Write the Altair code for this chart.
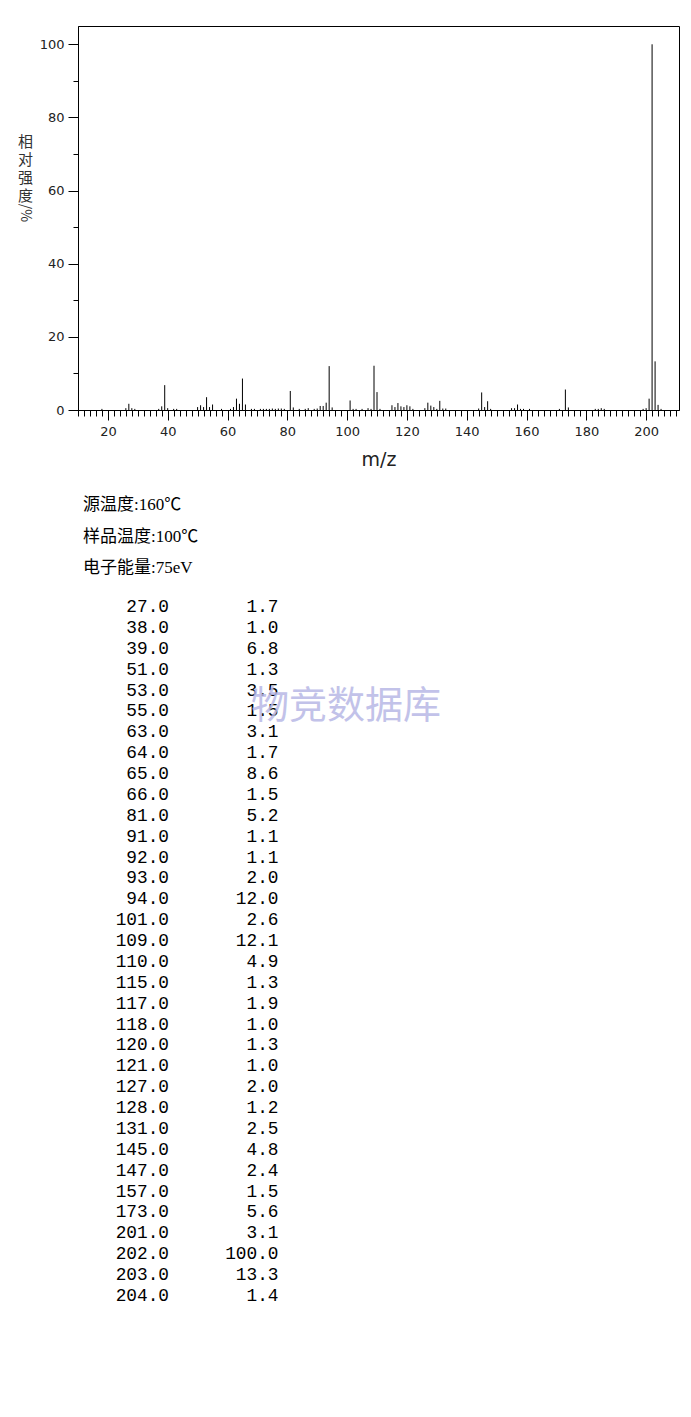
import altair as alt
import pandas as pd

# Listed peaks (m/z, relative intensity %)
table_mz = [27.0, 38.0, 39.0, 51.0, 53.0, 55.0, 63.0, 64.0, 65.0, 66.0,
            81.0, 91.0, 92.0, 93.0, 94.0, 101.0, 109.0, 110.0, 115.0, 117.0,
            118.0, 120.0, 121.0, 127.0, 128.0, 131.0, 145.0, 147.0, 157.0, 173.0,
            201.0, 202.0, 203.0, 204.0]
table_int = [1.7, 1.0, 6.8, 1.3, 3.5, 1.5, 3.1, 1.7, 8.6, 1.5,
             5.2, 1.1, 1.1, 2.0, 12.0, 2.6, 12.1, 4.9, 1.3, 1.9,
             1.0, 1.3, 1.0, 2.0, 1.2, 2.5, 4.8, 2.4, 1.5, 5.6,
             3.1, 100.0, 13.3, 1.4]

# Small peaks (below 1 %)
minor_mz = [18, 26, 28, 29, 37, 40, 42, 43, 50, 52,
            54, 58, 61, 62, 68, 69, 71, 72, 73, 74,
            75, 76, 77, 78, 79, 82, 84, 86, 87, 89,
            90, 95, 102, 103, 105, 107, 108, 111, 116, 119,
            122, 126, 129, 130, 132, 133, 144, 146, 148, 155,
            156, 158, 159, 161, 171, 174, 183, 184, 185, 186,
            199, 200, 205]
minor_int = [0.3, 0.5, 0.5, 0.3, 0.3, 0.5, 0.3, 0.3, 0.8, 0.8,
             0.8, 0.3, 0.3, 0.8, 0.3, 0.3, 0.3, 0.3, 0.3, 0.3,
             0.4, 0.3, 0.4, 0.4, 0.3, 0.7, 0.3, 0.3, 0.5, 0.3,
             0.4, 0.7, 0.3, 0.3, 0.3, 0.5, 0.3, 0.3, 0.8, 0.8,
             0.3, 0.5, 0.8, 0.3, 0.4, 0.4, 0.4, 0.8, 0.3, 0.5,
             0.5, 0.3, 0.3, 0.3, 0.3, 0.7, 0.3, 0.3, 0.5, 0.3,
             0.3, 0.5, 0.3]

header_lines = ["源温度:160℃", "样品温度:100℃", "电子能量:75eV"]
x_ticks = list(range(10, 212, 2))
y_ticks = list(range(0, 101, 10))
y_title = ["相", "对", "强", "度"]
y_title_tail = ["/%"]
x_title = "m/z"
watermark = ["物竞数据库"]

W, H = 601, 384
CJK = "Noto Sans CJK SC"

spec_df = pd.DataFrame({"mz": [float(v) for v in table_mz] + [float(v) for v in minor_mz],
                        "inten": table_int + minor_int})
table_df = pd.DataFrame({"row": list(range(len(table_mz))),
                         "mz_s": [f"{v:.1f}" for v in table_mz],
                         "int_s": [f"{v:.1f}" for v in table_int]})
header_df = pd.DataFrame({"row": list(range(len(header_lines))), "label": header_lines})

spectrum = alt.Chart(spec_df).mark_rule(color="black", strokeWidth=1).encode(
    x=alt.X("mz:Q",
            scale=alt.Scale(domain=[10, 211], nice=False, zero=False),
            axis=alt.Axis(values=x_ticks, title=x_title,
                          tickSize={"condition": {"test": "datum.value % 20 === 0", "value": 10}, "value": 6},
                          labelExpr="datum.value % 20 === 0 ? datum.label : ''",
                          labelOverlap=False, labelFlush=False,
                          labelFont="DejaVu Sans", labelFontSize=13, labelColor="#222",
                          labelPadding=5,
                          titleFont="DejaVu Sans", titleFontSize=19, titleFontWeight="normal",
                          titleColor="#222", titleBaseline="alphabetic", titleY=55,
                          domainColor="black", tickColor="black", grid=False)),
    y=alt.Y("inten:Q",
            scale=alt.Scale(domain=[0, 105], nice=False),
            axis=alt.Axis(values=y_ticks, title=y_title,
                          tickSize={"condition": {"test": "datum.value % 20 === 0", "value": 10}, "value": 5},
                          labelExpr="datum.value % 20 === 0 ? datum.label : ''",
                          labelOverlap=False, labelFlush=False,
                          labelFont="DejaVu Sans", labelFontSize=13, labelColor="#222",
                          labelPadding=4,
                          titleFont=CJK, titleFontSize=15, titleFontWeight="normal",
                          titleColor="#333", titleAngle=0, titleAlign="center",
                          titleBaseline="top", titleLineHeight=18, titleX=-53, titleY=108,
                          domainColor="black", tickColor="black", grid=False)),
    y2=alt.datum(0),
)

tail = alt.Chart(pd.DataFrame({"t": y_title_tail})).mark_text(
    angle=90, font=CJK, fontSize=14, color="#333", align="center", baseline="middle"
).encode(x=alt.value(-53), y=alt.value(187), text="t:N")

header = alt.Chart(header_df).mark_text(
    align="left", baseline="middle", font="Liberation Serif, " + CJK, fontSize=17, color="black"
).encode(
    x=alt.value(5),
    y=alt.Y("row:Q", scale=alt.Scale(domain=[0, 2], range=[479, 542]), axis=None),
    text="label:N",
)

col1 = alt.Chart(table_df).mark_text(
    align="right", baseline="middle", font="Liberation Mono", fontSize=17.8, color="black"
).encode(
    x=alt.value(91),
    y=alt.Y("row:Q", scale=alt.Scale(domain=[0, 33], range=[581, 1270]), axis=None),
    text="mz_s:N",
)

col2 = alt.Chart(table_df).mark_text(
    align="right", baseline="middle", font="Liberation Mono", fontSize=17.8, color="black"
).encode(
    x=alt.value(200.5),
    y=alt.Y("row:Q", scale=alt.Scale(domain=[0, 33], range=[581, 1270]), axis=None),
    text="int_s:N",
)

wm = alt.Chart(pd.DataFrame({"t": watermark})).mark_text(
    font=CJK, fontSize=38, color="#b8b8e6", opacity=0.85, align="center", baseline="middle"
).encode(x=alt.value(268), y=alt.value(681), text="t:N")

chart = alt.layer(spectrum, tail, header, col1, col2, wm).resolve_scale(
    y="independent"
).properties(
    width=W, height=H,
    autosize=alt.AutoSizeParams(type="none"),
    padding={"left": 70, "top": 18, "right": 2, "bottom": 990},
    background="white",
).configure_view(stroke="black", strokeWidth=1)

chart.save("out.html", embed_options={"renderer": "svg", "actions": False})
